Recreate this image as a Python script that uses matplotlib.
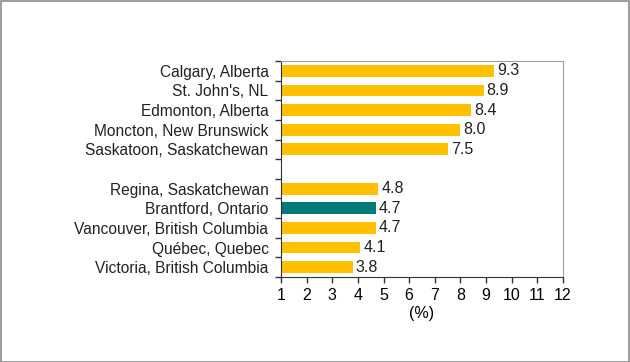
import matplotlib
matplotlib.use("Agg")
import matplotlib.pyplot as plt
from matplotlib.patches import Rectangle

plt.rcParams['font.family'] = ['Liberation Sans', 'DejaVu Sans']

categories = ["Calgary, Alberta", "St. John's, NL", "Edmonton, Alberta",
              "Moncton, New Brunswick", "Saskatoon, Saskatchewan", "",
              "Regina, Saskatchewan", "Brantford, Ontario",
              "Vancouver, British Columbia", "Québec, Quebec",
              "Victoria, British Columbia"]
values = [9.3, 8.9, 8.4, 8.0, 7.5, None, 4.8, 4.7, 4.7, 4.1, 3.8]
highlight = "Brantford, Ontario"
xticks = list(range(1, 13))

fig = plt.figure(figsize=(6.3, 3.62), dpi=100)
ax = fig.add_axes([281/630, 1-277/362, (563-281)/630, (277-61)/362])

n = len(categories)
for i, (c, v) in enumerate(zip(categories, values)):
    if v is None:
        continue
    y = n - 1 - i
    col = "#007B7A" if c == highlight else "#FFC000"
    ax.barh(y, v - 1, left=1, height=0.6, color=col, edgecolor='none')
    ax.text(v + 0.12, y, f"{v:.1f}", va='center', ha='left', fontsize=11.5, color='#222222')

ax.set_xlim(1, 12)
ax.set_ylim(-0.5, n - 0.5)
ax.set_xticks(xticks)
ax.set_xticklabels([str(t) for t in xticks], fontsize=11.5)
ax.set_yticks([n - 1 - i for i in range(n)])
ax.set_yticklabels(categories, fontsize=11.2, color='#222222')
ax.tick_params(axis='y', length=0, pad=9)
ax.set_yticks([k - 0.5 for k in range(n + 1)], minor=True)
ax.tick_params(axis='y', which='minor', length=4, width=1, color='#333333', direction='out')
ax.tick_params(axis='x', length=4, width=1, color='#333333', direction='out', pad=4)
ax.set_xlabel("(%)", fontsize=11.5, labelpad=2)

for s in ['top', 'right']:
    ax.spines[s].set_color('#A0A0A0')
for s in ['left', 'bottom']:
    ax.spines[s].set_color('#333333')

fig.patches.append(Rectangle((0.001, 0.001), 0.997, 0.996, transform=fig.transFigure,
                             fill=False, edgecolor='#8C8C8C', linewidth=1.2))

fig.savefig("out.png", dpi=100)
